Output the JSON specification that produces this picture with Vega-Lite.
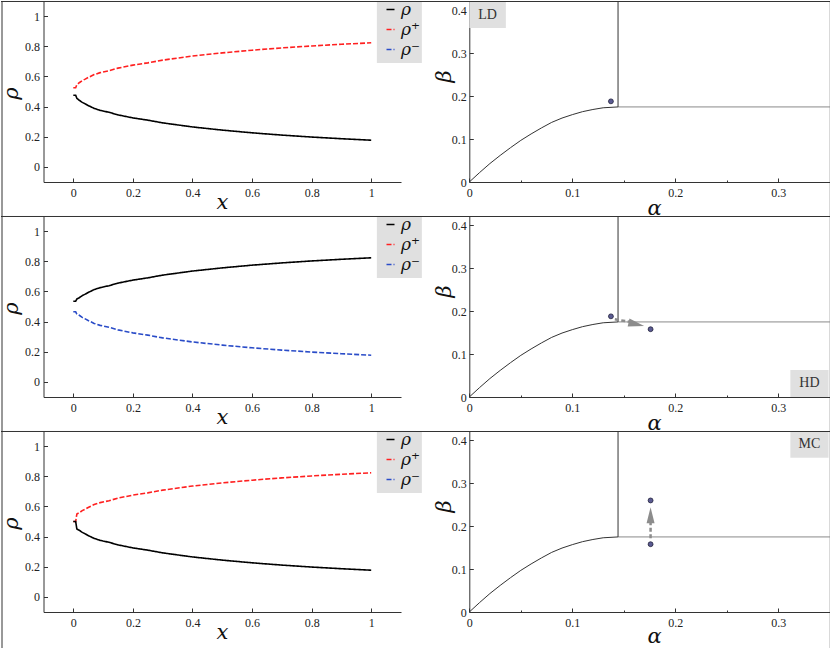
{
  "$schema": "https://vega.github.io/schema/vega-lite/v6.json",
  "padding": 0,
  "background": "white",
  "config": {
    "view": {"stroke": null},
    "font": "Liberation Serif",
    "axis": {"grid": false, "labelFlush": false, "labelOverlap": false, "labelFont": "Liberation Serif", "labelFontSize": 12, "labelColor": "#222", "domainColor": "#333", "tickColor": "#333", "titleFont": "DejaVu Serif", "titleFontStyle": "italic", "titleFontWeight": "normal", "titleFontSize": 21, "titleColor": "#111"},
    "legend": {"labelFont": "DejaVu Serif"}
  },
  "datasets": {
    "rho": [
      {"r":1,"s":"ρ⁺","x":0,"v":0.525},{"r":1,"s":"ρ⁺","x":0.008,"v":0.525},{"r":1,"s":"ρ⁺","x":0.012,"v":0.545},{"r":1,"s":"ρ⁺","x":0.02,"v":0.558},{"r":1,"s":"ρ⁺","x":0.03,"v":0.572},{"r":1,"s":"ρ⁺","x":0.04,"v":0.582},{"r":1,"s":"ρ⁺","x":0.05,"v":0.593},{"r":1,"s":"ρ⁺","x":0.07,"v":0.612},{"r":1,"s":"ρ⁺","x":0.09,"v":0.625},{"r":1,"s":"ρ⁺","x":0.12,"v":0.638},{"r":1,"s":"ρ⁺","x":0.15,"v":0.655},{"r":1,"s":"ρ⁺","x":0.2,"v":0.675},{"r":1,"s":"ρ⁺","x":0.25,"v":0.69},{"r":1,"s":"ρ⁺","x":0.3,"v":0.708},{"r":1,"s":"ρ⁺","x":0.4,"v":0.735},{"r":1,"s":"ρ⁺","x":0.5,"v":0.756},{"r":1,"s":"ρ⁺","x":0.6,"v":0.774},{"r":1,"s":"ρ⁺","x":0.7,"v":0.789},{"r":1,"s":"ρ⁺","x":0.8,"v":0.802},{"r":1,"s":"ρ⁺","x":0.9,"v":0.813},{"r":1,"s":"ρ⁺","x":1,"v":0.823},
      {"r":1,"s":"ρ","x":0,"v":0.475},{"r":1,"s":"ρ","x":0.008,"v":0.475},{"r":1,"s":"ρ","x":0.012,"v":0.455},{"r":1,"s":"ρ","x":0.02,"v":0.442},{"r":1,"s":"ρ","x":0.03,"v":0.428},{"r":1,"s":"ρ","x":0.04,"v":0.418},{"r":1,"s":"ρ","x":0.05,"v":0.407},{"r":1,"s":"ρ","x":0.07,"v":0.388},{"r":1,"s":"ρ","x":0.09,"v":0.375},{"r":1,"s":"ρ","x":0.12,"v":0.362},{"r":1,"s":"ρ","x":0.15,"v":0.345},{"r":1,"s":"ρ","x":0.2,"v":0.325},{"r":1,"s":"ρ","x":0.25,"v":0.31},{"r":1,"s":"ρ","x":0.3,"v":0.292},{"r":1,"s":"ρ","x":0.4,"v":0.265},{"r":1,"s":"ρ","x":0.5,"v":0.244},{"r":1,"s":"ρ","x":0.6,"v":0.226},{"r":1,"s":"ρ","x":0.7,"v":0.211},{"r":1,"s":"ρ","x":0.8,"v":0.198},{"r":1,"s":"ρ","x":0.9,"v":0.187},{"r":1,"s":"ρ","x":1,"v":0.177},
      {"r":2,"s":"ρ⁻","x":0,"v":0.465},{"r":2,"s":"ρ⁻","x":0.008,"v":0.465},{"r":2,"s":"ρ⁻","x":0.012,"v":0.45},{"r":2,"s":"ρ⁻","x":0.02,"v":0.442},{"r":2,"s":"ρ⁻","x":0.03,"v":0.428},{"r":2,"s":"ρ⁻","x":0.04,"v":0.418},{"r":2,"s":"ρ⁻","x":0.05,"v":0.407},{"r":2,"s":"ρ⁻","x":0.07,"v":0.388},{"r":2,"s":"ρ⁻","x":0.09,"v":0.375},{"r":2,"s":"ρ⁻","x":0.12,"v":0.362},{"r":2,"s":"ρ⁻","x":0.15,"v":0.345},{"r":2,"s":"ρ⁻","x":0.2,"v":0.325},{"r":2,"s":"ρ⁻","x":0.25,"v":0.31},{"r":2,"s":"ρ⁻","x":0.3,"v":0.292},{"r":2,"s":"ρ⁻","x":0.4,"v":0.265},{"r":2,"s":"ρ⁻","x":0.5,"v":0.244},{"r":2,"s":"ρ⁻","x":0.6,"v":0.226},{"r":2,"s":"ρ⁻","x":0.7,"v":0.211},{"r":2,"s":"ρ⁻","x":0.8,"v":0.198},{"r":2,"s":"ρ⁻","x":0.9,"v":0.187},{"r":2,"s":"ρ⁻","x":1,"v":0.177},
      {"r":2,"s":"ρ","x":0,"v":0.535},{"r":2,"s":"ρ","x":0.008,"v":0.535},{"r":2,"s":"ρ","x":0.012,"v":0.55},{"r":2,"s":"ρ","x":0.02,"v":0.558},{"r":2,"s":"ρ","x":0.03,"v":0.572},{"r":2,"s":"ρ","x":0.04,"v":0.582},{"r":2,"s":"ρ","x":0.05,"v":0.593},{"r":2,"s":"ρ","x":0.07,"v":0.612},{"r":2,"s":"ρ","x":0.09,"v":0.625},{"r":2,"s":"ρ","x":0.12,"v":0.638},{"r":2,"s":"ρ","x":0.15,"v":0.655},{"r":2,"s":"ρ","x":0.2,"v":0.675},{"r":2,"s":"ρ","x":0.25,"v":0.69},{"r":2,"s":"ρ","x":0.3,"v":0.708},{"r":2,"s":"ρ","x":0.4,"v":0.735},{"r":2,"s":"ρ","x":0.5,"v":0.756},{"r":2,"s":"ρ","x":0.6,"v":0.774},{"r":2,"s":"ρ","x":0.7,"v":0.789},{"r":2,"s":"ρ","x":0.8,"v":0.802},{"r":2,"s":"ρ","x":0.9,"v":0.813},{"r":2,"s":"ρ","x":1,"v":0.823},
      {"r":3,"s":"ρ⁺","x":0,"v":0.5},{"r":3,"s":"ρ⁺","x":0.008,"v":0.5},{"r":3,"s":"ρ⁺","x":0.012,"v":0.55},{"r":3,"s":"ρ⁺","x":0.02,"v":0.558},{"r":3,"s":"ρ⁺","x":0.03,"v":0.572},{"r":3,"s":"ρ⁺","x":0.04,"v":0.582},{"r":3,"s":"ρ⁺","x":0.05,"v":0.593},{"r":3,"s":"ρ⁺","x":0.07,"v":0.612},{"r":3,"s":"ρ⁺","x":0.09,"v":0.625},{"r":3,"s":"ρ⁺","x":0.12,"v":0.638},{"r":3,"s":"ρ⁺","x":0.15,"v":0.655},{"r":3,"s":"ρ⁺","x":0.2,"v":0.675},{"r":3,"s":"ρ⁺","x":0.25,"v":0.69},{"r":3,"s":"ρ⁺","x":0.3,"v":0.708},{"r":3,"s":"ρ⁺","x":0.4,"v":0.735},{"r":3,"s":"ρ⁺","x":0.5,"v":0.756},{"r":3,"s":"ρ⁺","x":0.6,"v":0.774},{"r":3,"s":"ρ⁺","x":0.7,"v":0.789},{"r":3,"s":"ρ⁺","x":0.8,"v":0.802},{"r":3,"s":"ρ⁺","x":0.9,"v":0.813},{"r":3,"s":"ρ⁺","x":1,"v":0.823},
      {"r":3,"s":"ρ","x":0,"v":0.5},{"r":3,"s":"ρ","x":0.008,"v":0.5},{"r":3,"s":"ρ","x":0.012,"v":0.45},{"r":3,"s":"ρ","x":0.02,"v":0.442},{"r":3,"s":"ρ","x":0.03,"v":0.428},{"r":3,"s":"ρ","x":0.04,"v":0.418},{"r":3,"s":"ρ","x":0.05,"v":0.407},{"r":3,"s":"ρ","x":0.07,"v":0.388},{"r":3,"s":"ρ","x":0.09,"v":0.375},{"r":3,"s":"ρ","x":0.12,"v":0.362},{"r":3,"s":"ρ","x":0.15,"v":0.345},{"r":3,"s":"ρ","x":0.2,"v":0.325},{"r":3,"s":"ρ","x":0.25,"v":0.31},{"r":3,"s":"ρ","x":0.3,"v":0.292},{"r":3,"s":"ρ","x":0.4,"v":0.265},{"r":3,"s":"ρ","x":0.5,"v":0.244},{"r":3,"s":"ρ","x":0.6,"v":0.226},{"r":3,"s":"ρ","x":0.7,"v":0.211},{"r":3,"s":"ρ","x":0.8,"v":0.198},{"r":3,"s":"ρ","x":0.9,"v":0.187},{"r":3,"s":"ρ","x":1,"v":0.177}
    ],
    "curve": [
      {"a":0,"b":0},{"a":0.01,"b":0.022},{"a":0.02,"b":0.043},{"a":0.03,"b":0.062},{"a":0.04,"b":0.08},{"a":0.05,"b":0.097},{"a":0.06,"b":0.112},{"a":0.07,"b":0.126},{"a":0.08,"b":0.139},{"a":0.09,"b":0.149},{"a":0.1,"b":0.157},{"a":0.11,"b":0.164},{"a":0.12,"b":0.169},{"a":0.13,"b":0.173},{"a":0.1444,"b":0.175}
    ],
    "bounds": [
      {"k":"h","a":0.1444,"a2":0.35,"b":0.175,"b2":0.175},
      {"k":"v","a":0.1444,"a2":0.1444,"b":0.175,"b2":0.4219}
    ],
    "pts": [
      {"r":1,"a":0.1375,"b":0.188},
      {"r":2,"a":0.1375,"b":0.188},{"r":2,"a":0.176,"b":0.158},
      {"r":3,"a":0.176,"b":0.158},{"r":3,"a":0.176,"b":0.26}
    ],
    "arrows": [
      {"r":2,"a":0.1413,"b":0.181,"a2":0.155,"b2":0.1755,"ha":0.1622,"hb":0.1695,"ang":103},
      {"r":3,"a":0.176,"b":0.1718,"a2":0.176,"b2":0.208,"ha":0.176,"hb":0.2256,"ang":0}
    ],
    "labels": [
      {"r":1,"t":"LD","a":0,"a2":0.0355,"b":0.359,"b2":0.4219,"ta":0.0178,"tb":0.39},
      {"r":2,"t":"HD","a":0.3117,"a2":0.3488,"b":0,"b2":0.063,"ta":0.3302,"tb":0.0315},
      {"r":3,"t":"MC","a":0.3117,"a2":0.3488,"b":0.3597,"b2":0.4219,"ta":0.3302,"tb":0.391}
    ],
    "one": [{}]
  },
  "columns": 2,
  "spacing": 0,
  "bounds": "flush",
  "resolve": {"scale": {"x": "independent", "y": "independent", "color": "independent", "strokeDash": "independent"}, "legend": {"color": "independent", "strokeDash": "independent"}},
  "concat": [
    {
      "width": 415, "height": 215,
      "layer": [
        {"data": {"name": "rho"}, "transform": [{"filter": "datum.r==1"}],
         "mark": {"type": "line", "strokeWidth": 1.6},
         "encoding": {
           "x": {"field": "x", "type": "quantitative", "scale": {"domain": [-0.1, 1.1], "range": [42.5, 400], "nice": false, "zero": false},
                 "axis": {"values": [0,0.2,0.4,0.6,0.8,1], "format": "~g", "offset": -34, "tickSize": -4, "labelPadding": 9, "labelFont": "Liberation Serif", "title": "x", "titleFont": "DejaVu Serif", "titleX": 221, "titleY": 26, "titleBaseline": "alphabetic", "titleAlign": "center"}},
           "y": {"field": "v", "type": "quantitative", "scale": {"domain": [-0.1, 1.1], "range": [181, 0], "nice": false, "zero": false},
                 "axis": {"values": [0,0.2,0.4,0.6,0.8,1], "format": "~g", "offset": -42.5, "tickSize": -4, "labelPadding": 8, "labelFont": "Liberation Serif", "title": "ρ", "titleFont": "DejaVu Serif", "titleX": -32, "titleY": 92, "titleBaseline": "middle", "titleAlign": "center", "titleAngle": 270}},
           "color": {"field": "s", "type": "nominal", "scale": {"domain": ["ρ","ρ⁺","ρ⁻"], "range": ["#000000","#ff2020","#2a4cc8"]},
                     "legend": {"orient": "none", "legendX": 381, "legendY": 0, "padding": 0, "rowPadding": 2, "title": null, "symbolType": "stroke", "symbolSize": 64, "symbolStrokeWidth": 1.6, "labelOffset": 2, "labelFont": "DejaVu Serif", "labelFontStyle": "italic", "labelFontSize": 17, "labelColor": "#111"}},
           "strokeDash": {"field": "s", "type": "nominal", "scale": {"domain": ["ρ","ρ⁺","ρ⁻"], "range": [[1,0],[5,2],[5,2]]},
                     "legend": {"orient": "none", "legendX": 381, "legendY": 0, "padding": 0, "rowPadding": 2, "title": null, "symbolType": "stroke", "symbolSize": 64, "symbolStrokeWidth": 1.6, "labelOffset": 2, "labelFont": "DejaVu Serif", "labelFontStyle": "italic", "labelFontSize": 17, "labelColor": "#111"}}
         }},
        {"data": {"name": "one"}, "mark": {"type": "rect", "fill": "#e0e0e0"}, "encoding": {"x": {"datum": 1.019}, "x2": {"datum": 1.17}, "y": {"datum": 0.689}, "y2": {"datum": 1.1}}},
        {"data": {"name": "one"}, "mark": {"type": "rule", "color": "#333", "strokeWidth": 1}, "encoding": {"y": {"datum": 1.0967}}},
        {"data": {"name": "one"}, "mark": {"type": "rule", "color": "#333", "strokeWidth": 1}, "encoding": {"x": {"datum": -0.2393}}}
      ]
    },
    {
      "width": 415, "height": 215,
      "layer": [
        {"data": {"name": "curve"}, "mark": {"type": "line", "color": "#333", "strokeWidth": 1},
         "encoding": {
           "x": {"field": "a", "type": "quantitative", "scale": {"domain": [0, 0.35], "range": [53.3, 413.8], "nice": false, "zero": false},
                 "axis": {"values": [0,0.05,0.1,0.15,0.2,0.25,0.3], "format": "~g", "labelExpr": "round(datum.value*100)%10==0 ? datum.label : ''", "offset": -34, "tickSize": {"condition": {"test": "round(datum.value*100)%10!=0", "value": -2}, "value": -4}, "labelPadding": 9, "labelFont": "Liberation Serif", "title": "α", "titleFont": "DejaVu Serif", "titleX": 238, "titleY": 32, "titleBaseline": "alphabetic", "titleAlign": "center"}},
           "y": {"field": "b", "type": "quantitative", "scale": {"domain": [0, 0.4219], "range": [181, 0], "nice": false, "zero": false},
                 "axis": {"values": [0,0.1,0.2,0.3,0.4], "format": "~g", "offset": -53.3, "tickSize": -4, "labelPadding": 7, "labelFont": "Liberation Serif", "title": "β", "titleFont": "DejaVu Serif", "titleX": -25, "titleY": 75, "titleBaseline": "middle", "titleAlign": "center", "titleAngle": 270}}
         }},
        {"data": {"name": "bounds"}, "mark": {"type": "rule", "strokeWidth": 1},
         "encoding": {"x": {"field": "a", "type": "quantitative"}, "x2": {"field": "a2"}, "y": {"field": "b", "type": "quantitative"}, "y2": {"field": "b2"}, "color": {"condition": {"test": "datum.k=='h'", "value": "#8a8a8a"}, "value": "#333"}}},
        {"data": {"name": "labels"}, "transform": [{"filter": "datum.r==1"}], "mark": {"type": "rect", "fill": "#e0e0e0"},
         "encoding": {"x": {"field": "a", "type": "quantitative"}, "x2": {"field": "a2"}, "y": {"field": "b", "type": "quantitative"}, "y2": {"field": "b2"}}},
        {"data": {"name": "labels"}, "transform": [{"filter": "datum.r==1"}], "mark": {"type": "text", "font": "Liberation Serif", "fontSize": 14, "color": "#333", "baseline": "middle"},
         "encoding": {"x": {"field": "ta", "type": "quantitative"}, "y": {"field": "tb", "type": "quantitative"}, "text": {"field": "t"}}},
        {"data": {"name": "pts"}, "transform": [{"filter": "datum.r==1"}], "mark": {"type": "point", "filled": true, "fill": "#5b5b92", "stroke": "#20203a", "strokeWidth": 0.8, "size": 24, "opacity": 1},
         "encoding": {"x": {"field": "a", "type": "quantitative"}, "y": {"field": "b", "type": "quantitative"}}},
        {"data": {"name": "one"}, "mark": {"type": "rule", "color": "#333", "strokeWidth": 1}, "encoding": {"y": {"datum": 0.4207}}},
        {"data": {"name": "one"}, "mark": {"type": "rule", "color": "#333", "strokeWidth": 1}, "encoding": {"x": {"datum": 0.3505}}}
      ]
    },
    {
      "width": 415, "height": 215,
      "layer": [
        {"data": {"name": "rho"}, "transform": [{"filter": "datum.r==2"}],
         "mark": {"type": "line", "strokeWidth": 1.6},
         "encoding": {
           "x": {"field": "x", "type": "quantitative", "scale": {"domain": [-0.1, 1.1], "range": [42.5, 400], "nice": false, "zero": false},
                 "axis": {"values": [0,0.2,0.4,0.6,0.8,1], "format": "~g", "offset": -34, "tickSize": -4, "labelPadding": 9, "labelFont": "Liberation Serif", "title": "x", "titleFont": "DejaVu Serif", "titleX": 221, "titleY": 26, "titleBaseline": "alphabetic", "titleAlign": "center"}},
           "y": {"field": "v", "type": "quantitative", "scale": {"domain": [-0.1, 1.1], "range": [181, 0], "nice": false, "zero": false},
                 "axis": {"values": [0,0.2,0.4,0.6,0.8,1], "format": "~g", "offset": -42.5, "tickSize": -4, "labelPadding": 8, "labelFont": "Liberation Serif", "title": "ρ", "titleFont": "DejaVu Serif", "titleX": -32, "titleY": 92, "titleBaseline": "middle", "titleAlign": "center", "titleAngle": 270}},
           "color": {"field": "s", "type": "nominal", "scale": {"domain": ["ρ","ρ⁺","ρ⁻"], "range": ["#000000","#ff2020","#2a4cc8"]},
                     "legend": {"orient": "none", "legendX": 381, "legendY": 0, "padding": 0, "rowPadding": 2, "title": null, "symbolType": "stroke", "symbolSize": 64, "symbolStrokeWidth": 1.6, "labelOffset": 2, "labelFont": "DejaVu Serif", "labelFontStyle": "italic", "labelFontSize": 17, "labelColor": "#111"}},
           "strokeDash": {"field": "s", "type": "nominal", "scale": {"domain": ["ρ","ρ⁺","ρ⁻"], "range": [[1,0],[5,2],[5,2]]},
                     "legend": {"orient": "none", "legendX": 381, "legendY": 0, "padding": 0, "rowPadding": 2, "title": null, "symbolType": "stroke", "symbolSize": 64, "symbolStrokeWidth": 1.6, "labelOffset": 2, "labelFont": "DejaVu Serif", "labelFontStyle": "italic", "labelFontSize": 17, "labelColor": "#111"}}
         }},
        {"data": {"name": "one"}, "mark": {"type": "rect", "fill": "#e0e0e0"}, "encoding": {"x": {"datum": 1.019}, "x2": {"datum": 1.17}, "y": {"datum": 0.689}, "y2": {"datum": 1.1}}},
        {"data": {"name": "one"}, "mark": {"type": "rule", "color": "#333", "strokeWidth": 1}, "encoding": {"y": {"datum": 1.0967}}},
        {"data": {"name": "one"}, "mark": {"type": "rule", "color": "#333", "strokeWidth": 1}, "encoding": {"x": {"datum": -0.2393}}}
      ]
    },
    {
      "width": 415, "height": 215,
      "layer": [
        {"data": {"name": "curve"}, "mark": {"type": "line", "color": "#333", "strokeWidth": 1},
         "encoding": {
           "x": {"field": "a", "type": "quantitative", "scale": {"domain": [0, 0.35], "range": [53.3, 413.8], "nice": false, "zero": false},
                 "axis": {"values": [0,0.05,0.1,0.15,0.2,0.25,0.3], "format": "~g", "labelExpr": "round(datum.value*100)%10==0 ? datum.label : ''", "offset": -34, "tickSize": {"condition": {"test": "round(datum.value*100)%10!=0", "value": -2}, "value": -4}, "labelPadding": 9, "labelFont": "Liberation Serif", "title": "α", "titleFont": "DejaVu Serif", "titleX": 238, "titleY": 32, "titleBaseline": "alphabetic", "titleAlign": "center"}},
           "y": {"field": "b", "type": "quantitative", "scale": {"domain": [0, 0.4219], "range": [181, 0], "nice": false, "zero": false},
                 "axis": {"values": [0,0.1,0.2,0.3,0.4], "format": "~g", "offset": -53.3, "tickSize": -4, "labelPadding": 7, "labelFont": "Liberation Serif", "title": "β", "titleFont": "DejaVu Serif", "titleX": -25, "titleY": 75, "titleBaseline": "middle", "titleAlign": "center", "titleAngle": 270}}
         }},
        {"data": {"name": "bounds"}, "mark": {"type": "rule", "strokeWidth": 1},
         "encoding": {"x": {"field": "a", "type": "quantitative"}, "x2": {"field": "a2"}, "y": {"field": "b", "type": "quantitative"}, "y2": {"field": "b2"}, "color": {"condition": {"test": "datum.k=='h'", "value": "#8a8a8a"}, "value": "#333"}}},
        {"data": {"name": "labels"}, "transform": [{"filter": "datum.r==2"}], "mark": {"type": "rect", "fill": "#e0e0e0"},
         "encoding": {"x": {"field": "a", "type": "quantitative"}, "x2": {"field": "a2"}, "y": {"field": "b", "type": "quantitative"}, "y2": {"field": "b2"}}},
        {"data": {"name": "labels"}, "transform": [{"filter": "datum.r==2"}], "mark": {"type": "text", "font": "Liberation Serif", "fontSize": 14, "color": "#333", "baseline": "middle"},
         "encoding": {"x": {"field": "ta", "type": "quantitative"}, "y": {"field": "tb", "type": "quantitative"}, "text": {"field": "t"}}},
        {"data": {"name": "arrows"}, "transform": [{"filter": "datum.r==2"}], "mark": {"type": "rule", "color": "#8c8c8c", "strokeWidth": 2.5, "strokeDash": [4, 2.5]},
         "encoding": {"x": {"field": "a", "type": "quantitative"}, "x2": {"field": "a2"}, "y": {"field": "b", "type": "quantitative"}, "y2": {"field": "b2"}}},
        {"data": {"name": "arrows"}, "transform": [{"filter": "datum.r==2"}], "mark": {"type": "point", "shape": "M0,-1L0.5,1L-0.5,1Z", "filled": true, "color": "#8c8c8c", "size": 256, "opacity": 1},
         "encoding": {"x": {"field": "ha", "type": "quantitative"}, "y": {"field": "hb", "type": "quantitative"}, "angle": {"field": "ang", "type": "quantitative", "scale": null}}},
        {"data": {"name": "pts"}, "transform": [{"filter": "datum.r==2"}], "mark": {"type": "point", "filled": true, "fill": "#5b5b92", "stroke": "#20203a", "strokeWidth": 0.8, "size": 24, "opacity": 1},
         "encoding": {"x": {"field": "a", "type": "quantitative"}, "y": {"field": "b", "type": "quantitative"}}},
        {"data": {"name": "one"}, "mark": {"type": "rule", "color": "#333", "strokeWidth": 1}, "encoding": {"y": {"datum": 0.4207}}},
        {"data": {"name": "one"}, "mark": {"type": "rule", "color": "#333", "strokeWidth": 1}, "encoding": {"x": {"datum": 0.3505}}}
      ]
    },
    {
      "width": 415, "height": 218,
      "layer": [
        {"data": {"name": "rho"}, "transform": [{"filter": "datum.r==3"}],
         "mark": {"type": "line", "strokeWidth": 1.6},
         "encoding": {
           "x": {"field": "x", "type": "quantitative", "scale": {"domain": [-0.1, 1.1], "range": [42.5, 400], "nice": false, "zero": false},
                 "axis": {"values": [0,0.2,0.4,0.6,0.8,1], "format": "~g", "offset": -37, "tickSize": -4, "labelPadding": 9, "labelFont": "Liberation Serif", "title": "x", "titleFont": "DejaVu Serif", "titleX": 221, "titleY": 26, "titleBaseline": "alphabetic", "titleAlign": "center"}},
           "y": {"field": "v", "type": "quantitative", "scale": {"domain": [-0.1, 1.1], "range": [181, 0], "nice": false, "zero": false},
                 "axis": {"values": [0,0.2,0.4,0.6,0.8,1], "format": "~g", "offset": -42.5, "tickSize": -4, "labelPadding": 8, "labelFont": "Liberation Serif", "title": "ρ", "titleFont": "DejaVu Serif", "titleX": -32, "titleY": 92, "titleBaseline": "middle", "titleAlign": "center", "titleAngle": 270}},
           "color": {"field": "s", "type": "nominal", "scale": {"domain": ["ρ","ρ⁺","ρ⁻"], "range": ["#000000","#ff2020","#2a4cc8"]},
                     "legend": {"orient": "none", "legendX": 381, "legendY": 0, "padding": 0, "rowPadding": 2, "title": null, "symbolType": "stroke", "symbolSize": 64, "symbolStrokeWidth": 1.6, "labelOffset": 2, "labelFont": "DejaVu Serif", "labelFontStyle": "italic", "labelFontSize": 17, "labelColor": "#111"}},
           "strokeDash": {"field": "s", "type": "nominal", "scale": {"domain": ["ρ","ρ⁺","ρ⁻"], "range": [[1,0],[5,2],[5,2]]},
                     "legend": {"orient": "none", "legendX": 381, "legendY": 0, "padding": 0, "rowPadding": 2, "title": null, "symbolType": "stroke", "symbolSize": 64, "symbolStrokeWidth": 1.6, "labelOffset": 2, "labelFont": "DejaVu Serif", "labelFontStyle": "italic", "labelFontSize": 17, "labelColor": "#111"}}
         }},
        {"data": {"name": "one"}, "mark": {"type": "rect", "fill": "#e0e0e0"}, "encoding": {"x": {"datum": 1.019}, "x2": {"datum": 1.17}, "y": {"datum": 0.689}, "y2": {"datum": 1.1}}},
        {"data": {"name": "one"}, "mark": {"type": "rule", "color": "#333", "strokeWidth": 1}, "encoding": {"y": {"datum": 1.0967}}},
        {"data": {"name": "one"}, "mark": {"type": "rule", "color": "#333", "strokeWidth": 1}, "encoding": {"y": {"datum": -0.342}}},
        {"data": {"name": "one"}, "mark": {"type": "rule", "color": "#333", "strokeWidth": 1}, "encoding": {"x": {"datum": -0.2393}}}
      ]
    },
    {
      "width": 415, "height": 218,
      "layer": [
        {"data": {"name": "curve"}, "mark": {"type": "line", "color": "#333", "strokeWidth": 1},
         "encoding": {
           "x": {"field": "a", "type": "quantitative", "scale": {"domain": [0, 0.35], "range": [53.3, 413.8], "nice": false, "zero": false},
                 "axis": {"values": [0,0.05,0.1,0.15,0.2,0.25,0.3], "format": "~g", "labelExpr": "round(datum.value*100)%10==0 ? datum.label : ''", "offset": -37, "tickSize": {"condition": {"test": "round(datum.value*100)%10!=0", "value": -2}, "value": -4}, "labelPadding": 9, "labelFont": "Liberation Serif", "title": "α", "titleFont": "DejaVu Serif", "titleX": 238, "titleY": 30, "titleBaseline": "alphabetic", "titleAlign": "center"}},
           "y": {"field": "b", "type": "quantitative", "scale": {"domain": [0, 0.4219], "range": [181, 0], "nice": false, "zero": false},
                 "axis": {"values": [0,0.1,0.2,0.3,0.4], "format": "~g", "offset": -53.3, "tickSize": -4, "labelPadding": 7, "labelFont": "Liberation Serif", "title": "β", "titleFont": "DejaVu Serif", "titleX": -25, "titleY": 75, "titleBaseline": "middle", "titleAlign": "center", "titleAngle": 270}}
         }},
        {"data": {"name": "bounds"}, "mark": {"type": "rule", "strokeWidth": 1},
         "encoding": {"x": {"field": "a", "type": "quantitative"}, "x2": {"field": "a2"}, "y": {"field": "b", "type": "quantitative"}, "y2": {"field": "b2"}, "color": {"condition": {"test": "datum.k=='h'", "value": "#8a8a8a"}, "value": "#333"}}},
        {"data": {"name": "labels"}, "transform": [{"filter": "datum.r==3"}], "mark": {"type": "rect", "fill": "#e0e0e0"},
         "encoding": {"x": {"field": "a", "type": "quantitative"}, "x2": {"field": "a2"}, "y": {"field": "b", "type": "quantitative"}, "y2": {"field": "b2"}}},
        {"data": {"name": "labels"}, "transform": [{"filter": "datum.r==3"}], "mark": {"type": "text", "font": "Liberation Serif", "fontSize": 14, "color": "#333", "baseline": "middle"},
         "encoding": {"x": {"field": "ta", "type": "quantitative"}, "y": {"field": "tb", "type": "quantitative"}, "text": {"field": "t"}}},
        {"data": {"name": "arrows"}, "transform": [{"filter": "datum.r==3"}], "mark": {"type": "rule", "color": "#8c8c8c", "strokeWidth": 2.5, "strokeDash": [4, 2.5]},
         "encoding": {"x": {"field": "a", "type": "quantitative"}, "x2": {"field": "a2"}, "y": {"field": "b", "type": "quantitative"}, "y2": {"field": "b2"}}},
        {"data": {"name": "arrows"}, "transform": [{"filter": "datum.r==3"}], "mark": {"type": "point", "shape": "M0,-1L0.5,1L-0.5,1Z", "filled": true, "color": "#8c8c8c", "size": 256, "opacity": 1},
         "encoding": {"x": {"field": "ha", "type": "quantitative"}, "y": {"field": "hb", "type": "quantitative"}, "angle": {"field": "ang", "type": "quantitative", "scale": null}}},
        {"data": {"name": "pts"}, "transform": [{"filter": "datum.r==3"}], "mark": {"type": "point", "filled": true, "fill": "#5b5b92", "stroke": "#20203a", "strokeWidth": 0.8, "size": 24, "opacity": 1},
         "encoding": {"x": {"field": "a", "type": "quantitative"}, "y": {"field": "b", "type": "quantitative"}}},
        {"data": {"name": "one"}, "mark": {"type": "rule", "color": "#333", "strokeWidth": 1}, "encoding": {"y": {"datum": 0.4207}}},
        {"data": {"name": "one"}, "mark": {"type": "rule", "color": "#333", "strokeWidth": 1}, "encoding": {"y": {"datum": -0.0851}}},
        {"data": {"name": "one"}, "mark": {"type": "rule", "color": "#333", "strokeWidth": 1}, "encoding": {"x": {"datum": 0.3505}}}
      ]
    }
  ]
}
